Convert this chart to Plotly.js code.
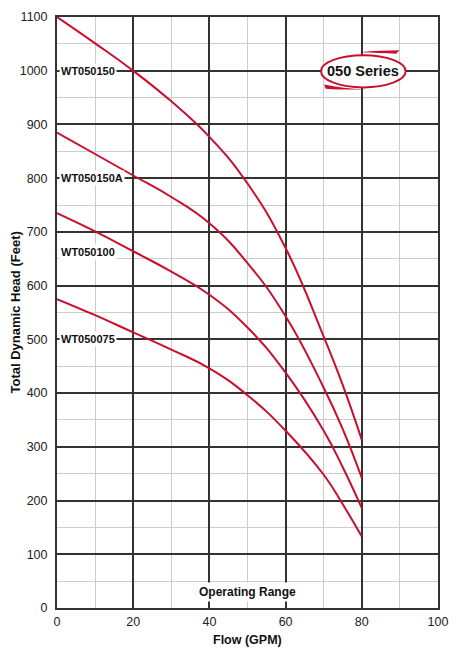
<!DOCTYPE html>
<html>
<head>
<meta charset="utf-8">
<script src="https://cdn.plot.ly/plotly-3.0.1.min.js"></script>
<style>
  html, body { margin: 0; padding: 0; background: #fff; }
  #chart { width: 459px; height: 652px; }
</style>
</head>
<body>
<div id="chart"></div>
<script>
// flow points (GPM)
const flow = [0, 10, 20, 30, 40, 50, 60, 70, 75, 80];

// head (feet) for each model
const wt050150  = [1100, 1051, 1000, 943, 877, 790, 670, 505, 415, 313];
const wt050150A = [885, 845, 805, 765, 716, 642, 543, 410, 333, 242];
const wt050100  = [735, 701, 664, 626, 583, 522, 438, 330, 262, 186];
const wt050075  = [575, 545, 513, 481, 446, 396, 330, 248, 193, 133];

const models = ['WT050150', 'WT050150A', 'WT050100', 'WT050075'];
const heads = [wt050150, wt050150A, wt050100, wt050075];
// head value where each model label sits on the left axis
const labelHeads = [1000, 800, 663, 500];

const xTitle = 'Flow (GPM)';
const yTitle = 'Total Dynamic Head (Feet)';

const red = '#c8102e';
const dark = '#333333';
const light = '#cccccc';
const font = 'Liberation Sans, Arial, sans-serif';

const data = heads.map((h, i) => ({
  x: flow,
  y: h,
  name: models[i],
  type: 'scatter',
  mode: 'lines',
  line: { color: red, width: 2, shape: 'spline', smoothing: 1.3 },
  hoverinfo: 'x+y+name'
}));

const annotations = models.map((m, i) => ({
  x: 0, y: labelHeads[i], xref: 'x', yref: 'y',
  xanchor: 'left', yanchor: 'middle', xshift: 2,
  text: m, showarrow: false,
  bgcolor: '#fff', borderpad: 1,
  font: { family: font, size: 11, color: '#111', weight: 'bold' }
}));

annotations.push({
  x: 50, y: 29, xref: 'x', yref: 'y',
  text: 'Operating Range', showarrow: false,
  bgcolor: '#fff', borderpad: 2,
  font: { family: font, size: 12, color: '#111', weight: 'bold' }
});

// axis titles
annotations.push({
  x: 0.5, y: 0, xref: 'paper', yref: 'paper',
  xanchor: 'center', yanchor: 'middle', yshift: -32,
  text: xTitle, showarrow: false,
  font: { family: font, size: 12.5, color: '#111', weight: 'bold' }
});
annotations.push({
  x: 0, y: 0.5, xref: 'paper', yref: 'paper',
  xanchor: 'center', yanchor: 'middle', xshift: -42,
  textangle: -90,
  text: yTitle, showarrow: false,
  font: { family: font, size: 13, color: '#111', weight: 'bold' }
});

// series badge
const badge = { x0: 69.3, x1: 91.5, y0: 969, y1: 1029 };
annotations.push({
  x: (badge.x0 + badge.x1) / 2, y: (badge.y0 + badge.y1) / 2,
  xref: 'x', yref: 'y',
  text: '050 Series', showarrow: false,
  font: { family: font, size: 14.5, color: '#111', weight: 'bold' }
});

const shapes = [
  {
    type: 'circle', xref: 'x', yref: 'y', layer: 'above',
    x0: badge.x0, x1: badge.x1, y0: badge.y0, y1: badge.y1,
    fillcolor: '#fff', line: { color: red, width: 2 }
  },
  {
    type: 'path', xref: 'x', yref: 'y', layer: 'above',
    path: 'M 79.2,1034.5 Q 85,1038 89.9,1038.0 L 89.0,1031.5 Q 85,1033.5 79.2,1034.5 Z',
    fillcolor: red, line: { width: 0 }
  },
  {
    type: 'path', xref: 'x', yref: 'y', layer: 'above',
    path: 'M 70.1,974.3 Q 75,967 81.0,965.0 Q 75,964.5 70.5,966.6 Z',
    fillcolor: red, line: { width: 0 }
  }
];

const layout = {
  width: 459,
  height: 652,
  paper_bgcolor: '#fff',
  plot_bgcolor: '#fff',
  showlegend: false,
  margin: { l: 57, r: 21, t: 17, b: 44 },
  font: { family: font, size: 12, color: '#222' },
  xaxis: {
    range: [0, 100],
    dtick: 20,
    tick0: 0,
    showgrid: true,
    gridcolor: dark,
    gridwidth: 1.5,
    zeroline: false,
    showline: true,
    mirror: true,
    linecolor: dark,
    linewidth: 2,
    ticks: '',
    ticklabelstandoff: 1,
    automargin: false,
    tickfont: { family: font, size: 12.5, color: '#222' },
    minor: { dtick: 10, showgrid: true, gridcolor: light, gridwidth: 1.3 }
  },
  yaxis: {
    range: [0, 1100],
    dtick: 100,
    tick0: 0,
    showgrid: true,
    gridcolor: dark,
    gridwidth: 1.5,
    zeroline: false,
    showline: true,
    mirror: true,
    linecolor: dark,
    linewidth: 2,
    ticks: '',
    ticklabelstandoff: 5,
    automargin: false,
    tickfont: { family: font, size: 12.5, color: '#222' },
    minor: { dtick: 50, showgrid: true, gridcolor: light, gridwidth: 1.3 }
  },
  annotations: annotations,
  shapes: shapes
};

Plotly.newPlot('chart', data, layout, { displayModeBar: false, responsive: false });
</script>
</body>
</html>
